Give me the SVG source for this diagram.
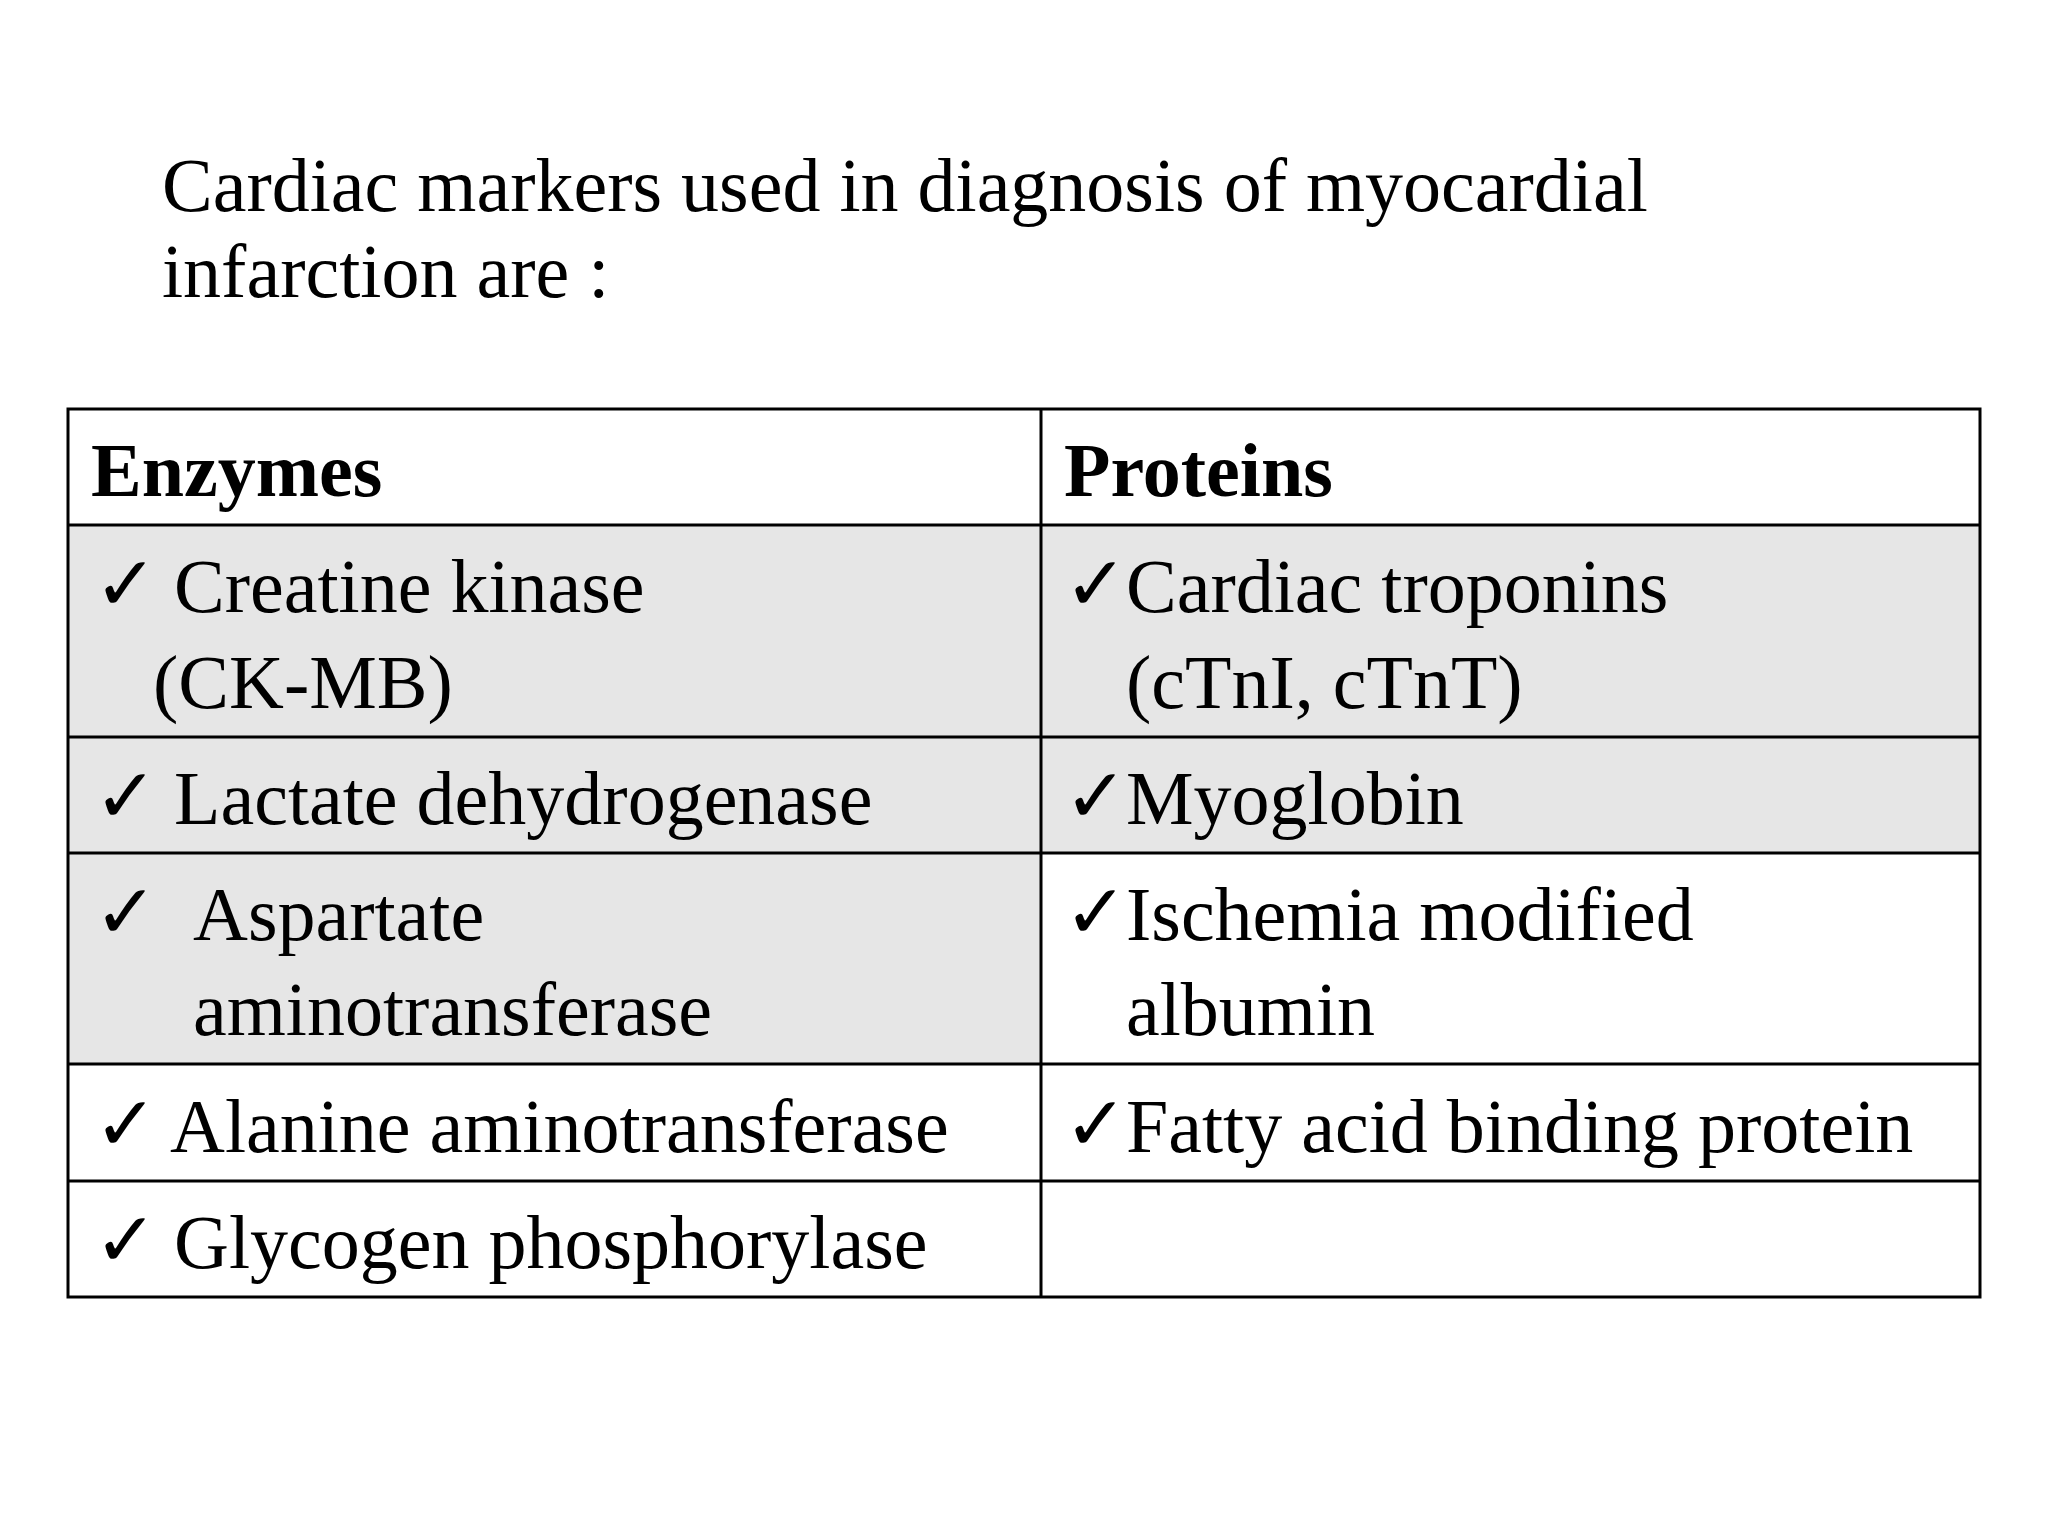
<svg xmlns="http://www.w3.org/2000/svg" width="2048" height="1536" viewBox="0 0 2048 1536">
<style>
text{font-family:"Liberation Serif","DejaVu Serif",serif;font-size:76px;fill:#000}
.b{font-weight:bold}
.g{fill:#e6e6e6}
line{stroke:#000;stroke-width:3}
</style>
<rect width="2048" height="1536" fill="#fff"/>
<g id="title">
<text x="162" y="211">Cardiac markers used in diagnosis of myocardial</text>
<text x="162" y="297">infarction are :</text>
</g>
<g id="table">
<rect class="g" x="68" y="525" width="1912" height="328"/>
<rect class="g" x="68" y="853" width="973" height="211"/>
<rect x="68" y="409" width="1912" height="888" fill="none" stroke="#000" stroke-width="3"/>
<line x1="1041" y1="409" x2="1041" y2="1297"/>
<line x1="68" y1="525" x2="1980" y2="525"/>
<line x1="68" y1="737" x2="1980" y2="737"/>
<line x1="68" y1="853" x2="1980" y2="853"/>
<line x1="68" y1="1064" x2="1980" y2="1064"/>
<line x1="68" y1="1181" x2="1980" y2="1181"/>
<text class="b" x="91" y="496">Enzymes</text>
<text class="b" x="1064" y="496">Proteins</text>
<text x="94" y="610">✓</text><text x="174" y="612">Creatine kinase</text>
<text x="153" y="708">(CK-MB)</text>
<text x="94" y="822">✓</text><text x="174" y="824">Lactate dehydrogenase</text>
<text x="94" y="938">✓</text><text x="193" y="940">Aspartate</text>
<text x="193" y="1035">aminotransferase</text>
<text x="94" y="1150">✓</text><text x="170" y="1152">Alanine aminotransferase</text>
<text x="94" y="1266">✓</text><text x="174" y="1268">Glycogen phosphorylase</text>
<text x="1064" y="610">✓</text><text x="1126" y="612">Cardiac troponins</text>
<text x="1126" y="708">(cTnI, cTnT)</text>
<text x="1064" y="822">✓</text><text x="1126" y="824">Myoglobin</text>
<text x="1064" y="938">✓</text><text x="1126" y="940">Ischemia modified</text>
<text x="1126" y="1035">albumin</text>
<text x="1064" y="1150">✓</text><text x="1126" y="1152">Fatty acid binding protein</text>
</g>
</svg>
